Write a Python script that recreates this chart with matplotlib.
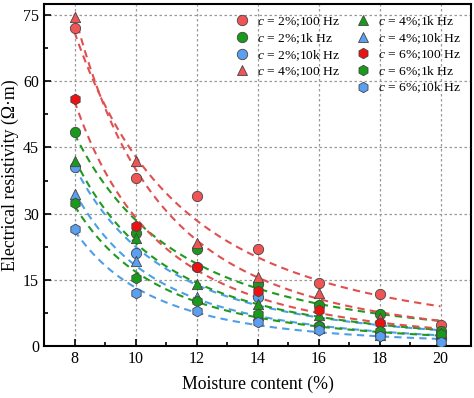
import numpy as np
import matplotlib
matplotlib.use("Agg")
import matplotlib.pyplot as plt
from matplotlib.ticker import MultipleLocator
from matplotlib.lines import Line2D

plt.rcParams['font.family'] = ['Liberation Serif', 'DejaVu Serif']
plt.rcParams['mathtext.fontset'] = 'custom'
plt.rcParams['mathtext.it'] = 'Liberation Serif:italic'
plt.rcParams['mathtext.rm'] = 'Liberation Serif'

moisture = [8, 10, 12, 14, 16, 18, 20]

legend_text = [r"$c$ = 2%;100 Hz", r"$c$ = 2%;1k Hz", r"$c$ = 2%;10k Hz",
               r"$c$ = 4%;100 Hz", r"$c$ = 4%;1k Hz", r"$c$ = 4%;10k Hz",
               r"$c$ = 6%;100 Hz", r"$c$ = 6%;1k Hz", r"$c$ = 6%;10k Hz"]

c2_100 = [72.0, 38.0, 34.0, 22.0, 14.3, 11.8, 4.8]
c2_1k = [48.6, 25.6, 22.0, 14.0, 9.3, 7.3, 3.5]
c2_10k = [40.5, 21.0, 18.0, 11.0, 4.5, 2.4, 1.5]
c4_100 = [74.5, 42.0, 23.4, 15.7, 12.0, 6.4, 3.0]
c4_1k = [42.0, 24.5, 14.0, 9.5, 7.0, 4.3, 2.5]
c4_10k = [34.5, 19.3, 11.0, 7.0, 4.0, 2.5, 1.5]
c6_100 = [56.0, 27.2, 18.0, 12.5, 8.2, 5.2, 2.5]
c6_1k = [32.3, 15.4, 10.2, 7.3, 4.5, 3.4, 2.8]
c6_10k = [26.5, 12.0, 8.0, 5.5, 3.6, 2.3, 1.0]

series = [c2_100, c2_1k, c2_10k, c4_100, c4_1k, c4_10k, c6_100, c6_1k, c6_10k]

red, green, blue, pure_red = "#f05555", "#1a9a1a", "#5a9ff0", "#ee1111"
face = [red, green, blue, red, green, blue, pure_red, green, blue]
line_col = ["#e05050", "#1f9a1f", "#4f9fe6"] * 3
markers = ["o", "o", "o", "^", "^", "^", "h", "h", "h"]


def power_fit(xv, yv):
    # least squares in linear space for y = a * x**b (grid over b, closed-form a)
    best = None
    for b in np.linspace(-5, 0, 2001):
        f = xv ** b
        a = np.dot(f, yv) / np.dot(f, f)
        err = np.sum((yv - a * f) ** 2)
        if best is None or err < best[0]:
            best = (err, a, b)
    return best[1], best[2]


fig = plt.figure(figsize=(4.74, 3.98), dpi=100)
ax = fig.add_axes([44/474, 1 - 346/398, (471-44)/474, (346-4)/398])

x = np.array(moisture, dtype=float)
xs = np.linspace(8, 20, 100)
handles = []
for s, fc, lc, m, lab in zip(series, face, line_col, markers, legend_text):
    y = np.array(s)
    a, b = power_fit(x, y)
    ax.plot(xs, a * xs ** b, ls=(0, (3.5, 2.5)), color=lc, lw=1.5, zorder=2)
    sz = 55 if m != "h" else 60
    ax.scatter(x, y, marker=m, s=sz, facecolor=fc, edgecolor="#444444", linewidth=0.6, zorder=3)
    handles.append(Line2D([], [], marker=m, ls="none", markersize=7.5, markerfacecolor=fc,
                          markeredgecolor="#444444", markeredgewidth=0.6, label=lab))

blank = Line2D([], [], ls="none", marker=None, label=" ")
hl = handles[:4] + [blank] + handles[4:]
ax.legend(handles=hl, ncol=2, loc="upper right", frameon=False, fontsize=9.7,
          handletextpad=0.3, columnspacing=0.9, labelspacing=0.18,
          bbox_to_anchor=(1.0, 1.0), borderaxespad=0.35, handlelength=1.6)

ax.set_xlim(7, 21)
ax.set_ylim(0, 77.5)
ax.xaxis.set_major_locator(MultipleLocator(2))
ax.xaxis.set_minor_locator(MultipleLocator(1))
ax.yaxis.set_major_locator(MultipleLocator(15))
ax.yaxis.set_minor_locator(MultipleLocator(7.5))
ax.tick_params(which="both", direction="in", width=1.2, labelsize=11.5)
ax.tick_params(which="major", length=5)
ax.tick_params(which="minor", length=3)
ax.grid(True, which="major", ls=(0, (2, 2)), color="#999999", lw=0.9)
ax.set_axisbelow(True)
for sp in ax.spines.values():
    sp.set_linewidth(1.5)
ax.set_xlabel("Moisture content (%)", fontsize=12.8, labelpad=6)
ax.set_ylabel("Electrical resistivity (Ω·m)", fontsize=12.8, labelpad=3)

fig.savefig("out.png", dpi=100)
